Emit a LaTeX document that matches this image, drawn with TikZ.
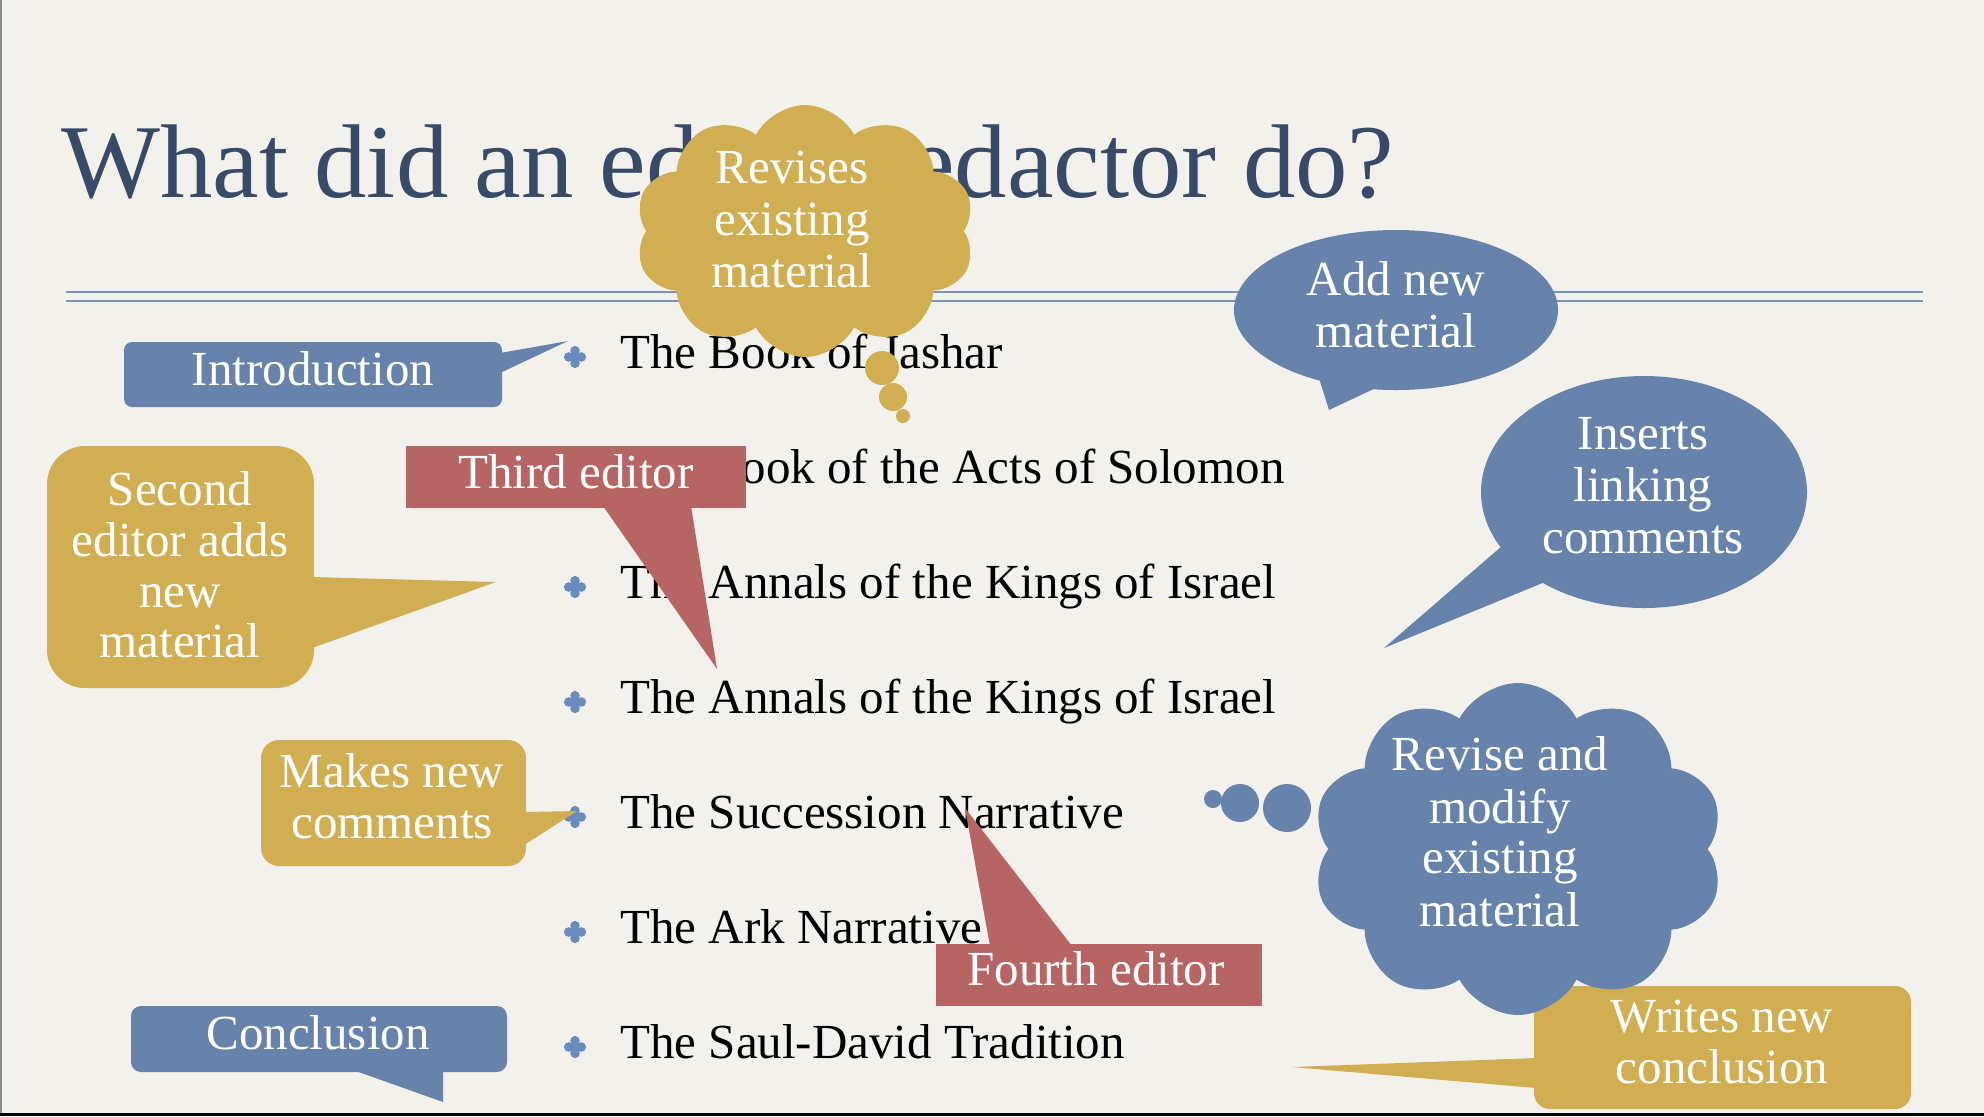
\documentclass[tikz,border=0pt]{standalone}
\usepackage{fontspec}
\setmainfont{Liberation Serif}
\usetikzlibrary{shapes.symbols}
\definecolor{bg}{HTML}{F3F1EC}
\definecolor{goldc}{HTML}{D2AE52}
\definecolor{bluc}{HTML}{6783AB}
\definecolor{redc}{HTML}{B76464}
\definecolor{navy}{HTML}{374B68}
\definecolor{bulc}{HTML}{6A8BBE}
\definecolor{rulec}{HTML}{7C93B8}
\begin{document}
\begin{tikzpicture}[x=0.5pt,y=-0.5pt,
  lbl/.style={text=white, font=\fontsize{24.5}{26}\selectfont, anchor=base, inner sep=0pt},
  itemtext/.style={text=black, font=\fontsize{24.5}{26}\selectfont, anchor=base west, inner sep=0pt},
  bullet/.pic={\fill[bulc] (6.3,0) circle (2.4pt) (-6.3,0) circle (2.4pt) (0,6.3) circle (2.4pt) (0,-6.3) circle (2.4pt) (0,0) circle (1.8pt);},
  cloudbox/.style={cloud, cloud puffs=10, cloud puff arc=125, cloud ignores aspect, inner sep=0pt, draw=none}
  ]
\fill[bg] (0,0) rectangle (1984,1116);
\useasboundingbox (0,0) rectangle (1984,1116);
\fill[black!45] (0,0) rectangle (2,1116);
\fill[black] (0,1113) rectangle (1984,1116);

% title
\node[anchor=base west, inner sep=0pt, text=navy, font=\fontsize{52.4}{56}\selectfont] (title) at (61,197) {What did an editor/redactor do?};

% double rule
\coordinate (r1a) at (66,292); \coordinate (r1b) at (1923,292);
\coordinate (r2a) at (66,301); \coordinate (r2b) at (1923,301);
\draw[rulec, line width=1.3pt] (r1a) -- (r1b);
\draw[rulec, line width=1.3pt] (r2a) -- (r2b);

% items
\pic at (575,357) {bullet};
\node[itemtext] (i1) at (620,368) {The Book of Jashar};
\pic at (575,472) {bullet};
\node[itemtext] (i2) at (620,483) {The Book of the Acts of Solomon};
\pic at (575,587) {bullet};
\node[itemtext] (i3) at (620,598) {The Annals of the Kings of Israel};
\pic at (575,702) {bullet};
\node[itemtext] (i4) at (620,713) {The Annals of the Kings of Israel};
\pic at (575,817) {bullet};
\node[itemtext] (i5) at (620,828) {The Succession Narrative};
\pic at (575,1047) {bullet};
\node[itemtext] (i7) at (620,1058) {The Saul-David Tradition};

% Introduction
\fill[bluc, rounded corners=4pt] (124,342) rectangle (502,407);
\fill[bluc] (500,353) -- (568,341) -- (500,373) -- cycle;
\node[lbl] (intro) at (313,385) {Introduction};

% Second editor
\fill[goldc, rounded corners=19pt] (47,446) rectangle (314,688);
\fill[goldc] (312,577) -- (496,582) -- (312,648) -- cycle;
\node[lbl] (se1) at (180,505) {Second};
\node[lbl] (se2) at (180,556) {editor adds};
\node[lbl] (se3) at (180,607) {new};
\node[lbl] (se4) at (180,657) {material};

% Third editor
\fill[redc] (406,446) rectangle (746,508);
\fill[redc] (603,506) -- (717,669) -- (691,506) -- cycle;
\node[lbl] (third) at (576,488) {Third editor};

% Makes new comments
\fill[goldc, rounded corners=9pt] (261,740) rectangle (526,866);
\fill[goldc] (524,812) -- (577,811) -- (524,845) -- cycle;
\node[lbl] (mk1) at (392,787) {Makes new};
\node[lbl] (mk2) at (392,838) {comments};

% Conclusion
\fill[bluc, rounded corners=5pt] (131,1006) rectangle (507,1072);
\fill[bluc] (353,1070) -- (443,1102) -- (443,1070) -- cycle;
\node[lbl] (concl) at (318,1049) {Conclusion};

% Fourth editor
\fill[redc] (936,944) rectangle (1262,1006);
\fill[redc] (990,946) -- (965,808) -- (1072,946) -- cycle;
\node[lbl] (fourth) at (1096,985) {Fourth editor};

\pic at (575,932) {bullet};
\node[itemtext] (i6) at (620,943) {The Ark Narrative};

% Writes new conclusion
\fill[goldc, rounded corners=8pt] (1534,986) rectangle (1911,1109);
\fill[goldc] (1536,1058) -- (1292,1067) -- (1536,1088) -- cycle;
\node[lbl] (wr1) at (1722,1032) {Writes new};
\node[lbl] (wr2) at (1722,1083) {conclusion};

% Add new material
\fill[bluc] (1396,310) ellipse [x radius=81pt, y radius=40pt];
\fill[bluc] (1317,372) -- (1329,410) -- (1380,386) -- cycle;
\node[lbl] (an1) at (1396,295) {Add new};
\node[lbl] (an2) at (1396,347) {material};

% Inserts linking comments
\fill[bluc] (1644,492) ellipse [x radius=81.5pt, y radius=58pt];
\fill[bluc] (1502,546) -- (1384,648) -- (1545,582) -- cycle;
\node[lbl] (in1) at (1643,449) {Inserts};
\node[lbl] (in2) at (1643,501) {linking};
\node[lbl] (in3) at (1643,553) {comments};

% Revises existing material (gold cloud)
\node[cloudbox, fill=goldc, minimum width=170pt, minimum height=126pt, shape border rotate=15] (gcloud) at (805,231) {};
\fill[goldc] (882,368) circle (8.5pt);
\fill[goldc] (893,397) circle (7pt);
\fill[goldc] (903,416) circle (3.5pt);
\node[lbl] (rv1) at (792,183) {Revises};
\node[lbl] (rv2) at (792,235) {existing};
\node[lbl] (rv3) at (792,287) {material};

% Revise and modify existing material (blue cloud)
\node[cloudbox, fill=bluc, minimum width=206pt, minimum height=166pt, shape border rotate=10] (bcloud) at (1518,849) {};
\fill[bluc] (1287,808) circle (12pt);
\fill[bluc] (1240,803) circle (9.5pt);
\fill[bluc] (1213,799) circle (4.5pt);
\node[lbl] (rm1) at (1500,770) {Revise and};
\node[lbl] (rm2) at (1500,823) {modify};
\node[lbl] (rm3) at (1500,873) {existing};
\node[lbl] (rm4) at (1500,926) {material};
\end{tikzpicture}
\end{document}
